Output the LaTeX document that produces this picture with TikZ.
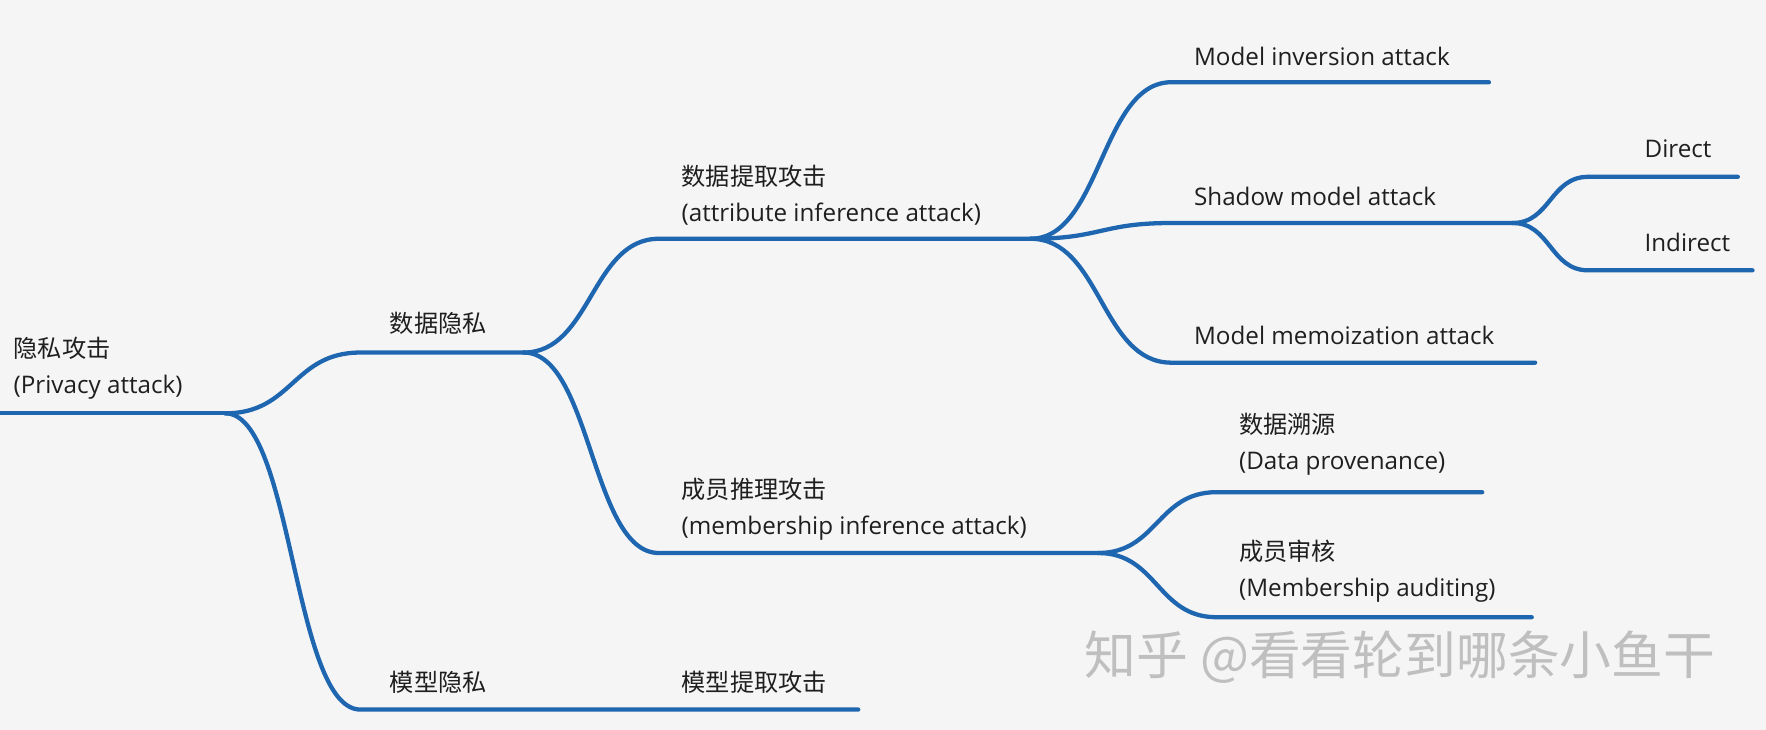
\documentclass[tikz,border=0pt]{standalone}
\usepackage{fontspec}
\setmainfont{Open Sans}
\newfontfamily\cjk{Noto Sans CJK SC}
\begin{document}
\begin{tikzpicture}[x=1pt,y=-1pt,
  br/.style={draw=brblue,line width=3.8pt,line cap=round},
  lbl/.style={anchor=west,inner sep=0pt,font=\fontsize{21.5}{32}\selectfont,align=left,text=black!88}]
\definecolor{brblue}{HTML}{1F66B0}
\fill[fill={rgb,255:red,245;green,245;blue,245}] (0,0) rectangle (1568,648);
\useasboundingbox (0,0) rectangle (1568,648);
\newcommand\brc[6]{% x1 y1 x2 y2 xend name
  \coordinate (#6s) at (#3,#4);
  \coordinate (#6) at (#5,#4);
  \draw[br] (#1,#2) .. controls ({(#1+#3)/2},#2) and ({(#1+#3)/2},#4) .. (#6s) -- (#6);}
\coordinate (r0) at (0,367);
\coordinate (r) at (200,367);
\draw[br] (r0) -- (r);
\brc{200}{367}{320}{313}{465}{a}
\brc{200}{367}{320}{630}{762}{b}
\brc{465}{313}{585}{212}{915}{c}
\brc{465}{313}{585}{491}{975}{d}
\brc{915}{212}{1040}{73}{1322}{e}
\brc{915}{212}{1040}{198}{1343}{f}
\brc{915}{212}{1040}{322}{1363}{g}
\brc{1343}{198}{1410}{157}{1543}{h}
\brc{1343}{198}{1410}{240}{1556}{i}
\brc{975}{491}{1080}{437}{1316}{j}
\brc{975}{491}{1080}{548}{1360}{k}
\node[lbl] (t0) at (12,327) {{\cjk 隐私攻击}\\(Privacy attack)};
\node[lbl] (t1) at (346,287) {\cjk 数据隐私};
\node[lbl] (t2) at (346,606) {\cjk 模型隐私};
\node[lbl] (t3) at (605,606) {\cjk 模型提取攻击};
\node[lbl] (t4) at (605,173) {{\cjk 数据提取攻击}\\(attribute inference attack)};
\node[lbl] (t5) at (605,452) {{\cjk 成员推理攻击}\\(membership inference attack)};
\node[lbl] (t6) at (1060,50) {Model inversion attack};
\node[lbl] (t7) at (1060,174) {Shadow model attack};
\node[lbl] (t8) at (1060,298) {Model memoization attack};
\node[lbl] (t9) at (1460,132) {Direct};
\node[lbl] (t10) at (1460,215) {Indirect};
\node[lbl] (t11) at (1100,394) {{\cjk 数据溯源}\\(Data provenance)};
\node[lbl] (t12) at (1100,507) {{\cjk 成员审核}\\(Membership auditing)};
\node[anchor=west,inner sep=0pt,font=\cjk\fontsize{46}{48}\selectfont,text=black!25] (wm) at (963,583) {知乎 @看看轮到哪条小鱼干};
\end{tikzpicture}
\end{document}
